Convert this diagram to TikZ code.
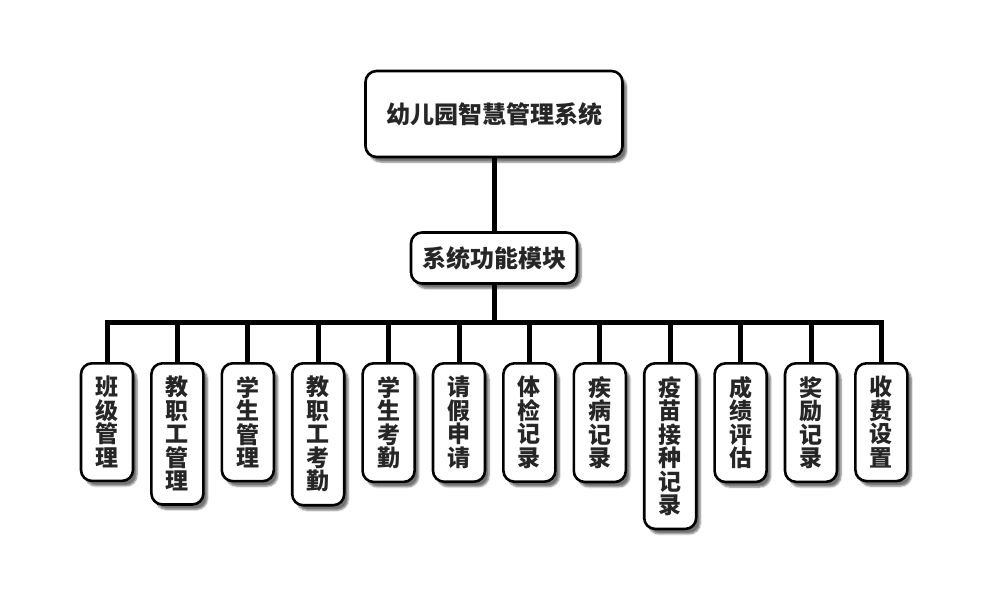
\documentclass[tikz,border=0pt]{standalone}
\usepackage{fontspec}
\newfontfamily\cjk{Noto Sans CJK SC}
\usetikzlibrary{shadows.blur}

\pgfdeclarelayer{background}
\pgfsetlayers{background,main}

\tikzset{
	box/.style={draw=black, line width=2.6pt, fill=white, rounded corners=11pt,
		blur shadow={shadow xshift=4pt, shadow yshift=-5pt, shadow blur steps=6, shadow opacity=55},
		text=black!85, font=\cjk\bfseries\fontsize{24}{24}\selectfont},
	leafbox/.style={box, anchor=north, minimum width=52pt, inner xsep=0pt, inner ysep=13pt,
		align=center, font=\cjk\bfseries\fontsize{23}{23.5}\selectfont},
	link/.style={line width=5pt, line join=miter}
}

\begin{document}
\begin{tikzpicture}[x=1pt, y=-1pt]
	\useasboundingbox (0,0) rectangle (987,607);

	% ---------- Top levels ----------
	\node[box, minimum width=257pt, minimum height=86pt] (root) at (494,114) {幼儿园智慧管理系统};
	\node[box, minimum width=166pt, minimum height=51pt] (func) at (494,258) {系统功能模块};

	% ---------- Module boxes ----------
	\foreach \name [count=\i] in {
		班\\级\\管\\理,
		教\\职\\工\\管\\理,
		学\\生\\管\\理,
		教\\职\\工\\考\\勤,
		学\\生\\考\\勤,
		请\\假\\申\\请,
		体\\检\\记\\录,
		疾\\病\\记\\录,
		疫\\苗\\接\\种\\记\\录,
		成\\绩\\评\\估,
		奖\\励\\记\\录,
		收\\费\\设\\置}
	{
		\node[leafbox] (m\i) at ({107+70.4*(\i-1)},362) {\name};
	}

	% ---------- Connectors ----------
	\coordinate (bus) at (494,322);
	\begin{pgfonlayer}{background}
		\draw[link] (root.south) -- (func.north);
		\foreach \i in {1,...,12}
			\draw[link] (func.south) -- (bus) -| (m\i.north);
	\end{pgfonlayer}
\end{tikzpicture}
\end{document}
